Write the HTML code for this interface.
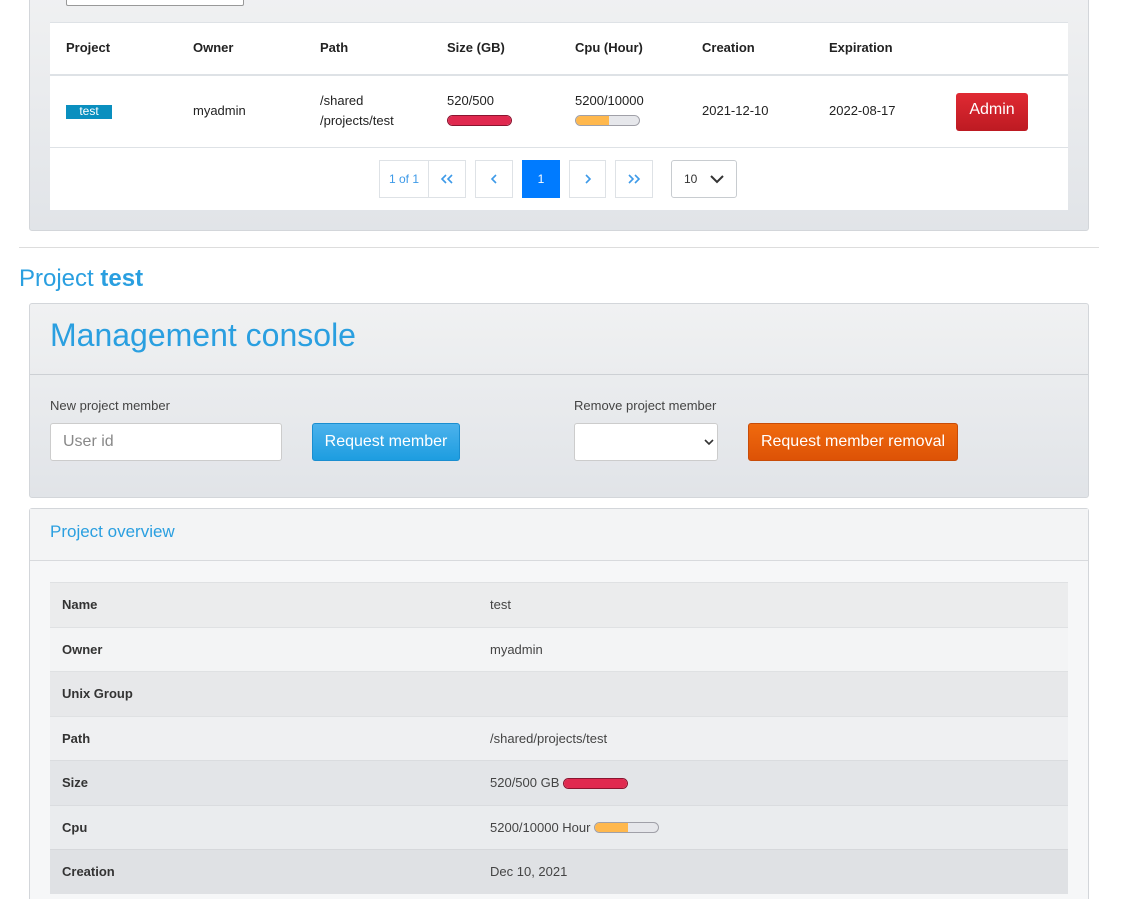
<!DOCTYPE html>
<html style="height:899px;overflow:hidden"><head><meta charset="utf-8"><style>
*{box-sizing:border-box;margin:0;padding:0}
body{width:1142px;height:899px;overflow:hidden;background:#fff;font-family:"Liberation Sans",sans-serif;color:#333;position:relative}
.a{position:absolute}
.panel{position:absolute;left:29px;width:1060px;border:1px solid #d3d6da;border-radius:3px;background:linear-gradient(#f0f1f2,#e1e4e8)}
.th{font-weight:bold;font-size:13px;color:#222;top:40px}
.td{font-size:13px;color:#222}
.pg{position:absolute;top:160px;height:38px;border:1px solid #dee2e6;background:#fff;color:#3d9ae8;font-size:12px;display:flex;align-items:center;justify-content:center}
.bar{position:absolute;height:11px;border-radius:6px;overflow:hidden;background:#e6e7eb}
.bar i{display:block;height:100%}
.row{position:absolute;left:50px;width:1018px;font-size:13px}
.row b{position:absolute;left:12px;color:#333}
.row span{position:absolute;left:440px;color:#444}
svg{display:block}
</style></head><body>
<div class="panel" style="top:-10px;height:241px"></div>
<div class="a" style="left:66px;top:-10px;width:178px;height:16px;border:1px solid #999;border-radius:2px;background:#fff"></div>
<div class="a" style="left:50px;top:22px;width:1018px;height:188px;background:#fff;border-top:1px solid #dee2e6"></div>
<div class="a" style="left:50px;top:74px;width:1018px;height:2px;background:#dee2e6"></div>
<div class="a" style="left:50px;top:147px;width:1018px;height:1px;background:#dee2e6"></div>
<div class="a th" style="left:66px">Project</div>
<div class="a th" style="left:193px">Owner</div>
<div class="a th" style="left:320px">Path</div>
<div class="a th" style="left:447px">Size (GB)</div>
<div class="a th" style="left:575px">Cpu (Hour)</div>
<div class="a th" style="left:702px">Creation</div>
<div class="a th" style="left:829px">Expiration</div>
<div class="a" style="left:66px;top:105px;width:46px;height:14px;background:#0a8fbf;color:#fff;font-size:12px;text-align:center;line-height:13px">test</div>
<div class="a td" style="left:193px;top:103px">myadmin</div>
<div class="a td" style="left:320px;top:91px;line-height:20px">/shared<br>/projects/test</div>
<div class="a td" style="left:447px;top:93px">520/500</div>
<div class="bar" id="sizeBar1" style="left:447px;top:115px;width:65px;border:1px solid #8a1530"><i style="background:#e0294f"></i></div>
<div class="a td" style="left:575px;top:93px">5200/10000</div>
<div class="bar" id="cpuBar1" style="left:575px;top:115px;width:65px;border:1px solid #a0a0a8"><i style="background:#ffb84d"></i></div>
<div class="a td" style="left:702px;top:103px">2021-12-10</div>
<div class="a td" style="left:829px;top:103px">2022-08-17</div>
<div class="a" style="left:956px;top:93px;width:72px;height:38px;border-radius:3px;background:linear-gradient(#e02a33,#bd1a22);color:#fff;font-size:16px;text-align:center;line-height:34px">Admin</div>
<div class="pg" style="left:379px;width:50px">1 of 1</div>
<div class="pg" style="left:428px;width:38px"><svg width="14" height="10"><path d="M6 1L2 5L6 9M12 1L8 5L12 9" stroke="#3d9ae8" stroke-width="1.6" fill="none"/></svg></div>
<div class="pg" style="left:475px;width:38px"><svg width="8" height="10"><path d="M6 1L2 5L6 9" stroke="#3d9ae8" stroke-width="1.6" fill="none"/></svg></div>
<div class="pg" style="left:522px;width:38px;background:#007bff;border-color:#007bff;color:#fff">1</div>
<div class="pg" style="left:569px;width:37px"><svg width="8" height="10"><path d="M2 1L6 5L2 9" stroke="#3d9ae8" stroke-width="1.6" fill="none"/></svg></div>
<div class="pg" style="left:615px;width:38px"><svg width="14" height="10"><path d="M2 1L6 5L2 9M8 1L12 5L8 9" stroke="#3d9ae8" stroke-width="1.6" fill="none"/></svg></div>
<div class="pg" style="left:671px;width:66px;color:#333;border-color:#c8ccd0;border-radius:3px;justify-content:flex-start;padding-left:12px">10 <svg style="margin-left:12px" width="16" height="10"><path d="M2 2L8 8L14 2" stroke="#333" stroke-width="2" fill="none"/></svg></div>

<div class="a" style="left:19px;top:247px;width:1080px;height:1px;background:#ddd"></div>
<div class="a" style="left:19px;top:265px;font-size:24px;color:#2a9fe0">Project <b>test</b></div>

<div class="panel" style="top:303px;height:195px"></div>
<div class="a" style="left:30px;top:374px;width:1058px;height:1px;background:#cdd0d4"></div>
<div class="a" style="left:50px;top:317px;font-size:32px;color:#2a9fe0">Management console</div>
<div class="a" style="left:50px;top:398px;font-size:13px;color:#444">New project member</div>
<div class="a" style="left:50px;top:423px;width:232px;height:38px;background:#fff;border:1px solid #ccc;border-radius:3px;font-size:16px;color:#888;padding:9px 12px">User id</div>
<div class="a" style="left:312px;top:423px;width:148px;height:38px;border-radius:3px;background:linear-gradient(#4cb2ec,#1d9de0);border:1px solid #1a8ed0;color:#fff;font-size:16px;text-align:center;line-height:35px">Request member</div>
<div class="a" style="left:574px;top:398px;font-size:13px;color:#444">Remove project member</div>
<div class="a" style="left:574px;top:423px;width:144px;height:38px;background:#fff;border:1px solid #ccc;border-radius:3px;padding:15px 0 0 129px"><svg width="10" height="7"><path d="M1 1L5 5L9 1" stroke="#333" stroke-width="1.6" fill="none"/></svg></div>
<div class="a" style="left:748px;top:423px;width:210px;height:38px;border-radius:3px;background:linear-gradient(#f06a0e,#dd5206);border:1px solid #c84c08;color:#fff;font-size:16px;text-align:center;line-height:35px">Request member removal</div>

<div class="panel" style="top:508px;height:400px;background:#f6f7f8"></div>
<div class="a" style="left:30px;top:509px;width:1058px;height:52px;background:#f3f4f5;border-bottom:1px solid #d8dadd"></div>
<div class="a" style="left:50px;top:522px;font-size:17px;color:#2a9fe0">Project overview</div>

<div class="row" style="top:582px;height:45px;background:#ebeced;border-top:1px solid #dfe1e3"><b style="top:14px">Name</b><span style="top:14px">test</span></div>
<div class="row" style="top:627px;height:44px;background:#f3f4f5;border-top:1px solid #dfe1e3"><b style="top:14px">Owner</b><span style="top:14px">myadmin</span></div>
<div class="row" style="top:671px;height:45px;background:#e7e8ea;border-top:1px solid #dfe1e3"><b style="top:14px">Unix Group</b></div>
<div class="row" style="top:716px;height:44px;background:#eff0f2;border-top:1px solid #dfe1e3"><b style="top:14px">Path</b><span style="top:14px">/shared/projects/test</span></div>
<div class="row" style="top:760px;height:45px;background:#e3e5e8;border-top:1px solid #dadcdf"><b style="top:14px">Size</b><span style="top:14px">520/500 GB</span></div>
<div class="bar" id="sizeBar2" style="left:563px;top:778px;width:65px;border:1px solid #8a1530"><i style="background:#e0294f"></i></div>
<div class="row" style="top:805px;height:44px;background:#eaecee;border-top:1px solid #dadcdf"><b style="top:14px">Cpu</b><span style="top:14px">5200/10000 Hour</span></div>
<div class="bar" id="cpuBar2" style="left:594px;top:822px;width:65px;border:1px solid #a0a0a8"><i style="background:#ffb84d"></i></div>
<div class="row" style="top:849px;height:45px;background:#dfe1e4;border-top:1px solid #d6d8db"><b style="top:14px">Creation</b><span style="top:14px">Dec 10, 2021</span></div>

<script>
const usageLabels = ["size","cpu"];
const usageUsed = [520, 5200];
const usageMax = [500, 10000];
function pct(i){return Math.min(1, usageUsed[i]/usageMax[i])*100;}
[["sizeBar1","sizeBar2"],["cpuBar1","cpuBar2"]].forEach((ids,i)=>{
  ids.forEach(id=>{document.querySelector('#'+id+' i').style.width=pct(i)+'%';});
});
</script>
</body></html>
